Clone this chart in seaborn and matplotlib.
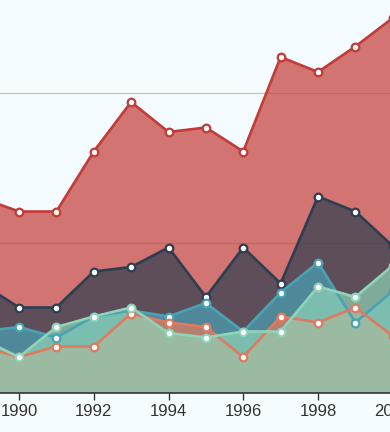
import matplotlib
matplotlib.use("Agg")
import matplotlib.pyplot as plt
import seaborn as sns
import pandas as pd

# years and series values
years = list(range(1989, 2001))
red = [130, 121, 121, 161, 194, 174, 177, 161, 224, 214, 231, 250]
navy = [73, 57, 57, 81, 84, 97, 64, 97, 73, 131, 121, 98]
blue = [41, 44, 37, 51, 55, 51, 60, 41, 67, 87, 47, 68]
orange = [31, 24, 31, 31, 53, 47, 44, 24, 51, 47, 57, 38]
mint = [36, 24, 44, 51, 57, 40, 37, 41, 41, 71, 64, 85]

names = ["A", "B", "C", "D", "E"]
colors = ["#c23b37", "#2c3e50", "#4aa3b4", "#e07a5f", "#8fd4b8"]

df = pd.concat([
    pd.DataFrame({"year": years, "value": vals, "series": n})
    for n, vals in zip(names, [red, navy, blue, orange, mint])
])

bg = "#f5fcff"
sns.set_theme(style="white")
plt.rcParams["font.family"] = ["Liberation Sans", "DejaVu Sans"]

fig = plt.figure(figsize=(3.9, 4.32), dpi=100, facecolor=bg)
# axes run past the figure edges so the chart looks cropped
px_year = 37.375
left_px = 19 - 1.0 * px_year
right_px = 19 + 10.5 * px_year
ax = fig.add_axes([left_px / 390, 39 / 432, (right_px - left_px) / 390, 393 / 432])
ax.set_facecolor(bg)

for n, c in zip(names, colors):
    sub = df[df["series"] == n]
    ax.fill_between(sub["year"], 0, sub["value"], color=c, alpha=0.7, lw=0, zorder=2)

sns.lineplot(data=df, x="year", y="value", hue="series", palette=colors,
             marker="o", markersize=5.5, markerfacecolor="white",
             markeredgewidth=1.6, linewidth=1.9, legend=False, ax=ax, zorder=3)
for line, c in zip(ax.lines, colors):
    line.set_markeredgecolor(c)

ax.set_xlim(1989, 2000.5)
ax.set_ylim(0, 262)
ax.set_xticks([1990, 1992, 1994, 1996, 1998, 2000])
ax.set_yticks([0, 100, 200])
ax.yaxis.grid(True, color="#c8c8c8", lw=1)
ax.set_axisbelow(True)
ax.tick_params(axis="y", left=False, labelleft=False)
ax.tick_params(axis="x", bottom=True, length=5, width=1, color="#333333",
               labelsize=12, labelcolor="#333333", pad=3)
ax.set_xlabel("")
ax.set_ylabel("")
for s in ["top", "left", "right"]:
    ax.spines[s].set_visible(False)
ax.spines["bottom"].set_color("#333333")
ax.spines["bottom"].set_linewidth(1.2)
ax.spines["bottom"].set_zorder(4)

fig.savefig("out.png", dpi=100, facecolor=bg)
